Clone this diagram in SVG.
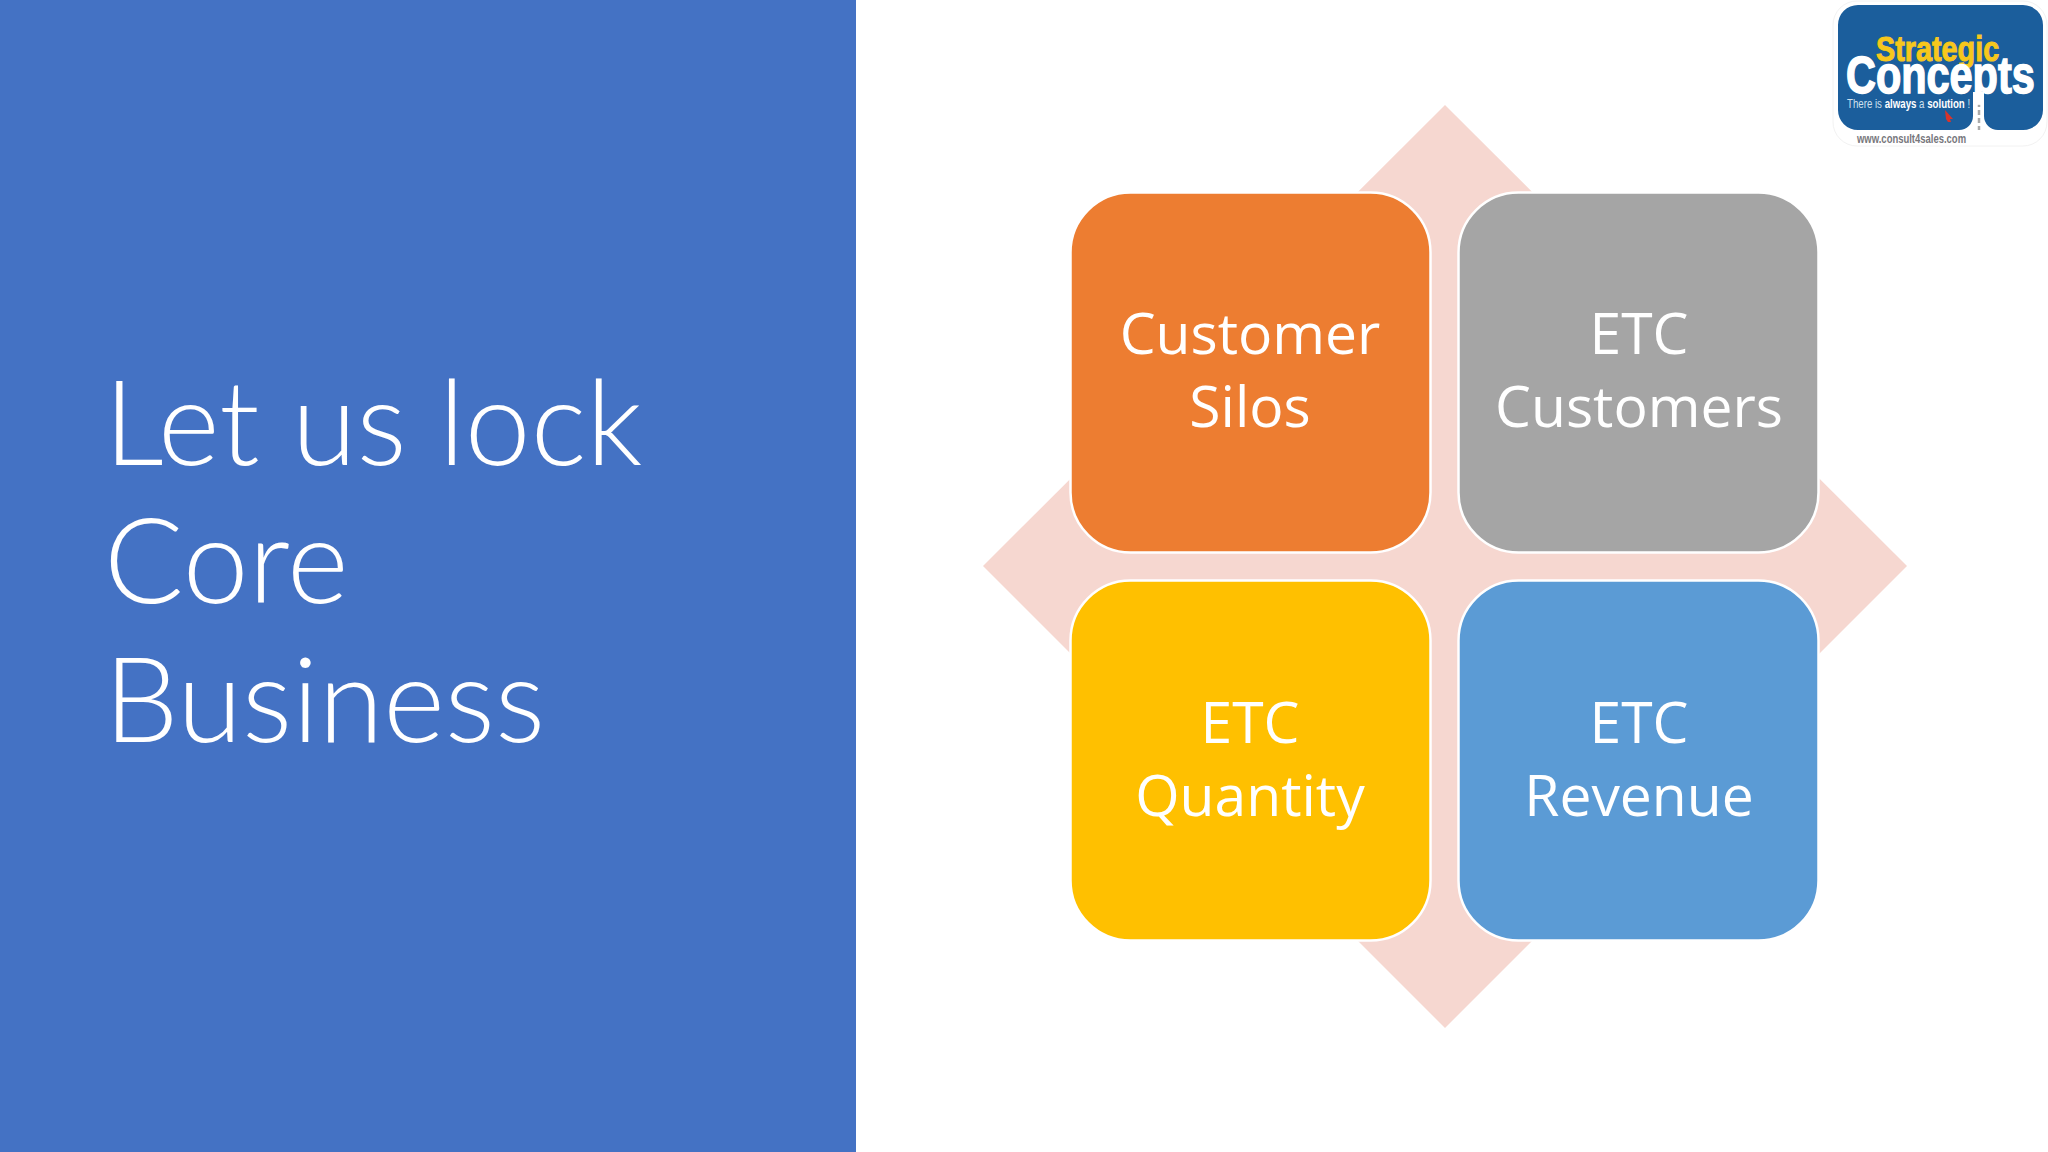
<svg xmlns="http://www.w3.org/2000/svg" width="2048" height="1152" viewBox="0 0 2048 1152">
<style>
.t{font-family:"Open Sans","Liberation Sans",sans-serif;fill:#fff;text-anchor:middle;font-size:57px}
.h{font-family:"Lato","Open Sans",sans-serif;font-weight:300;fill:#fff;font-size:118px}
.b{stroke:#fff;stroke-width:2.500}
.l{font-family:"Liberation Sans",sans-serif;font-weight:700}
</style>
<rect width="2048" height="1152" fill="#fff"/>
<rect id="panel" width="856" height="1152" fill="#4472c4"/>
<g id="title"><text class="h" x="104" y="465">Let us lock</text><text class="h" x="104" y="603">Core</text><text class="h" x="104" y="742">Business</text></g>
<polygon id="diamond" points="1445,105 1907,566 1445,1028 983,566" fill="#f6d7d0"/>
<g id="node-customer-silos"><rect class="b" x="1070.500" y="192.500" width="360" height="360" rx="60" fill="#ed7d31"/><text class="t" x="1250" y="354">Customer</text><text class="t" x="1250" y="427">Silos</text></g>
<g id="node-etc-customers"><rect class="b" x="1458.500" y="192.500" width="360" height="360" rx="60" fill="#a5a5a5"/><text class="t" x="1639" y="354">ETC</text><text class="t" x="1639" y="427">Customers</text></g>
<g id="node-etc-quantity"><rect class="b" x="1070.500" y="580.500" width="360" height="360" rx="60" fill="#ffc000"/><text class="t" x="1250" y="743">ETC</text><text class="t" x="1250" y="816">Quantity</text></g>
<g id="node-etc-revenue"><rect class="b" x="1458.500" y="580.500" width="360" height="360" rx="60" fill="#5b9bd5"/><text class="t" x="1639" y="743">ETC</text><text class="t" x="1639" y="816">Revenue</text></g>
<g id="connectors"/>
<g id="logo">
<rect x="1833" y="1" width="214" height="145" rx="24" fill="#fff" stroke="#f2f2f2"/>
<path d="M1858 5H2023a20 20 0 0 1 20 20V110a20 20 0 0 1-20 20H1998a14 14 0 0 1-14-14V92H1973V116a14 14 0 0 1-14 14H1858a20 20 0 0 1-20-20V25a20 20 0 0 1 20-20Z" fill="#1b5e9c"/>
<path d="M1979 94V130" stroke="#aaa" stroke-width="2.500" stroke-dasharray="5 3"/>
<text class="l" transform="translate(1876 61) scale(.8 1)" font-size="36" fill="#f7c71c" stroke="#f7c71c" stroke-width="1">Strategic</text>
<text class="l" transform="translate(1846 93) scale(.797 1)" font-size="52" fill="#fff" stroke="#fff" stroke-width="1.500">Concepts</text>
<text transform="translate(1847 108) scale(.745 1)" font-family="Liberation Sans,sans-serif" font-size="13" fill="#cfe0ee">There is <tspan font-weight="700" fill="#fff">always</tspan> a <tspan font-weight="700" fill="#fff">solution</tspan> !</text>
<path d="M1945 110L1953 119L1950 119L1951 122L1948 122L1946 119Z" fill="#d9342b"/>
<text class="l" transform="translate(1857 143) scale(.79 1)" font-size="12" fill="#77777c">www.consult4sales.com</text>
</g>
</svg>
